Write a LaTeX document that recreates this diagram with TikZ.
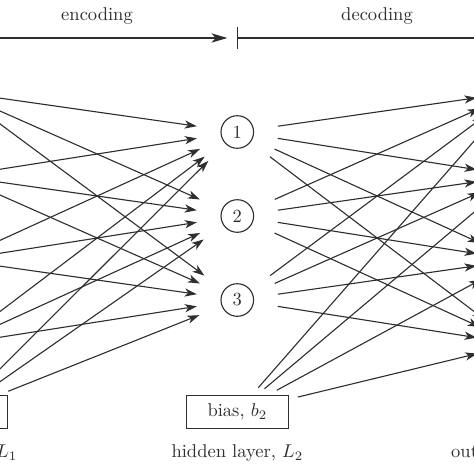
\documentclass[tikz,border=0pt]{standalone}
\usetikzlibrary{arrows.meta}
\begin{document}
\begin{tikzpicture}[x=0.54pt,y=-0.54pt,
  color=black!82,
  unit/.style={circle,draw,line width=0.6pt,minimum size=17.6pt,inner sep=0pt},
  biasbox/.style={rectangle,draw,line width=0.6pt,minimum width=55pt,minimum height=17.8pt,inner sep=0pt},
  conn/.style={line width=0.6pt,-{Stealth[length=6.5pt,width=4.4pt,inset=1.8pt]}},
  fromunit/.style={shorten <=13pt},
  tounit/.style={shorten >=13pt},
  frombias/.style={shorten <=5pt},
  toparrow/.style={line width=0.6pt,-{Stealth[length=8.5pt,width=5pt,inset=2.2pt]}}
]
\path[use as bounding box, clip] (0,0) rectangle (474,474);

% input layer (mostly outside the frame)
\node[unit] (i1) at (-43,92) {};
\node[unit] (i2) at (-43,176) {};
\node[unit] (i3) at (-43,260) {};
\node[unit] (i4) at (-43,344) {};
\node[biasbox] (b1) at (-43,411.7) {bias, $b_1$};

% hidden layer
\node[unit] (h1) at (237.3,132) {1};
\node[unit] (h2) at (237.3,216) {2};
\node[unit] (h3) at (237.3,300) {3};
\node[biasbox] (b2) at (237.3,411.7) {bias, $b_2$};

% output layer (mostly outside the frame)
\node[unit] (o1) at (517,92) {};
\node[unit] (o2) at (517,176) {};
\node[unit] (o3) at (517,260) {};
\node[unit] (o4) at (517,344) {};

% layer labels
\node (l1) at (-43,453) {input layer, $L_1$};
\node (l2) at (237.3,453) {hidden layer, $L_2$};
\node (l3) at (517,453) {output layer, $L_3$};

% encoding / decoding axis
\coordinate (t0) at (-43,38);
\coordinate (t1) at (237.3,38);
\coordinate (t2) at (517,38);
\draw[toparrow, shorten >=5.4pt] (t0) -- (t1);
\draw[line width=0.6pt, {Bar[width=12pt]}-] (t1) -- (t2);
\node (enc) at (97,16) {encoding};
\node (dec) at (377,16) {decoding};

% input -> hidden
\foreach \i in {1,2,3,4}{
  \foreach \h in {1,2,3}{
    \draw[conn,fromunit,tounit] (i\i) -- (h\h);
  }
}
\foreach \h in {1,2,3}{
  \draw[conn,frombias,tounit] (b1) -- (h\h);
}
% hidden -> output
\foreach \h in {1,2,3}{
  \foreach \o in {1,2,3,4}{
    \draw[conn,fromunit,tounit] (h\h) -- (o\o);
  }
}
\foreach \o in {1,2,3,4}{
  \draw[conn,frombias,tounit] (b2) -- (o\o);
}
\end{tikzpicture}
\end{document}
